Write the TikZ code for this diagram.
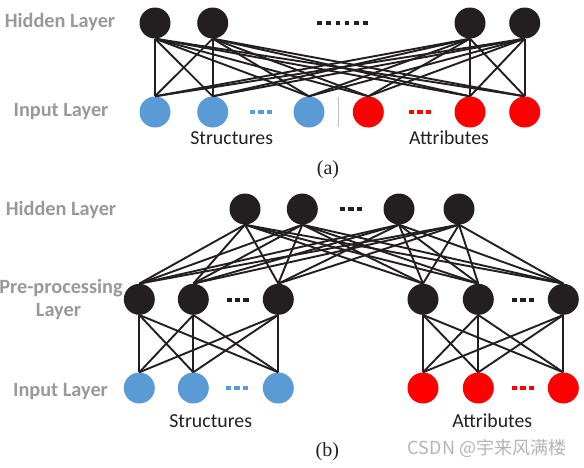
\documentclass[tikz,border=0pt]{standalone}
\usepackage{fontspec}
\newfontfamily\labfont{Carlito}
\newfontfamily\capfont{Liberation Serif}
\newfontfamily\cjk{Noto Sans CJK SC}
\definecolor{nodeblack}{HTML}{231F20}
\definecolor{inblue}{HTML}{5B9BD5}
\definecolor{inred}{HTML}{FF0000}
\definecolor{labgray}{HTML}{999999}
\definecolor{wmgray}{HTML}{B4B4B4}
\begin{document}
\begin{tikzpicture}[x=1pt,y=-1pt,
  neuron/.style={circle, minimum size=31pt, inner sep=0pt, draw=none},
  hid/.style={neuron, fill=nodeblack},
  blu/.style={neuron, fill=inblue},
  rd/.style={neuron, fill=inred},
  link/.style={draw=nodeblack, line width=1.9pt},
  layerlab/.style={font=\labfont\bfseries\fontsize{20.3}{24}\selectfont, text=labgray, inner sep=0pt},
  grouplab/.style={font=\labfont\fontsize{19.8}{22}\selectfont, text=nodeblack, inner sep=0pt},
  caplab/.style={font=\capfont\fontsize{20}{22}\selectfont, text=nodeblack, inner sep=0pt},
  wmlab/.style={font=\cjk\fontsize{18}{20}\selectfont, text=wmgray, inner sep=0pt}
]
\useasboundingbox (0,0) rectangle (584,467);

% ---------------- (a) ----------------
\node[hid] (a1) at (155,23) {};
\node[hid] (a2) at (212.7,23) {};
\node[hid] (a3) at (470,23) {};
\node[hid] (a4) at (524.7,23) {};
\node[blu] (s1) at (155,112) {};
\node[blu] (s2) at (212.7,112) {};
\node[blu] (s3) at (309,112) {};
\node[rd] (t1) at (368.3,112) {};
\node[rd] (t2) at (470,112) {};
\node[rd] (t3) at (524.7,112) {};

\foreach \h in {a1,a2,a3,a4}
  \foreach \i in {s1,s2,s3,t1,t2,t3}
    \draw[link] (\h.south) -- (\i.north);

% dots
\foreach \k in {0,...,5}
  \fill[nodeblack] (319.5+\k*9.2-2.3,20.7) rectangle (319.5+\k*9.2+2.3,24.7);
\foreach \k in {-1,0,1}
  \fill[inblue] (261+\k*8.4-2.6,110.2) rectangle (261+\k*8.4+2.6,114);
\foreach \k in {-1,0,1}
  \fill[inred] (420+\k*8.4-2.6,110.2) rectangle (420+\k*8.4+2.6,114);

% separator
\draw[black!25, line width=1.2pt] (338.7,97) -- (338.7,127);

\node[layerlab] (la1) at (60,22) {Hidden Layer};
\node[layerlab] (la2) at (61,112) {Input Layer};
\node[grouplab] (ga1) at (231.7,138) {Structures};
\node[grouplab] (ga2) at (449,138) {Attributes};
\node[caplab] (capa) at (328,170) {(a)};

% ---------------- (b) ----------------
\node[hid] (h1) at (245,209) {};
\node[hid] (h2) at (302.3,209) {};
\node[hid] (h3) at (399,209) {};
\node[hid] (h4) at (459,209) {};
\node[hid] (p1) at (139.3,299.3) {};
\node[hid] (p2) at (193.3,299.3) {};
\node[hid] (p3) at (278.3,299.3) {};
\node[hid] (q1) at (423,299.3) {};
\node[hid] (q2) at (478.3,299.3) {};
\node[hid] (q3) at (563.3,299.3) {};
\node[blu] (u1) at (139.3,388) {};
\node[blu] (u2) at (193.3,388) {};
\node[blu] (u3) at (278.3,388) {};
\node[rd] (v1) at (423,388) {};
\node[rd] (v2) at (478.3,388) {};
\node[rd] (v3) at (563.3,388) {};

\foreach \h in {h1,h2,h3,h4}
  \foreach \i in {p1,p2,p3,q1,q2,q3}
    \draw[link] (\h.south) -- (\i.north);
\foreach \p in {p1,p2,p3}
  \foreach \i in {u1,u2,u3}
    \draw[link] (\p.south) -- (\i.north);
\foreach \p in {q1,q2,q3}
  \foreach \i in {v1,v2,v3}
    \draw[link] (\p.south) -- (\i.north);

% dots
\foreach \k in {-1,0,1}
  \fill[nodeblack] (351+\k*8.4-2.6,207) rectangle (351+\k*8.4+2.6,211);
\foreach \k in {-1,0,1}
  \fill[nodeblack] (237.5+\k*8.4-2.6,297.5) rectangle (237.5+\k*8.4+2.6,301.5);
\foreach \k in {-1,0,1}
  \fill[nodeblack] (523+\k*8.4-2.6,297.5) rectangle (523+\k*8.4+2.6,301.5);
\foreach \k in {-1,0,1}
  \fill[inblue] (237+\k*8.4-2.6,386.2) rectangle (237+\k*8.4+2.6,390);
\foreach \k in {-1,0,1}
  \fill[inred] (523+\k*8.4-2.6,386.2) rectangle (523+\k*8.4+2.6,390);

\node[layerlab] (lb1) at (61,210) {Hidden Layer};
\node[layerlab] (lb2) at (61,288) {Pre-processing};
\node[layerlab] (lb3) at (58.5,312) {Layer};
\node[layerlab] (lb4) at (60.5,392) {Input Layer};
\node[grouplab] (gb1) at (210.7,421) {Structures};
\node[grouplab] (gb2) at (492.3,421) {Attributes};
\node[caplab] (capb) at (327.3,452) {(b)};
\node[wmlab] (wm) at (487,448) {CSDN @宇来风满楼};
\end{tikzpicture}
\end{document}
